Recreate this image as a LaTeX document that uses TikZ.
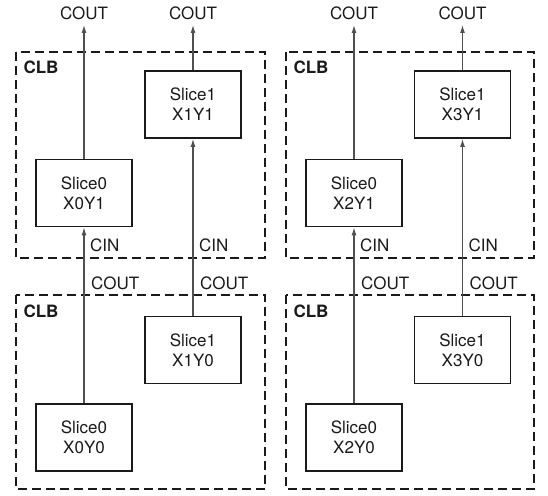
\documentclass[tikz,border=0pt]{standalone}
\usepackage{fontspec}
\setmainfont{TeX Gyre Heros}
\usetikzlibrary{arrows.meta}
\definecolor{ink}{HTML}{1A1A1A}
\definecolor{wire}{HTML}{505050}
\begin{document}
\begin{tikzpicture}[x=1pt,y=-1pt,
  every node/.style={text=ink,font=\fontsize{17}{20}\selectfont},
  slicebox/.style={draw=ink,line width=1.8pt,minimum width=96pt,minimum height=67pt,align=center,inner sep=0pt},
  clbbox/.style={draw=ink,line width=1.8pt,dash pattern=on 9pt off 5pt},
  clblabel/.style={anchor=west,font=\fontsize{17}{20}\selectfont\bfseries},
  conn/.style={draw=wire,line width=1.1pt},
  arr/.style={conn,-{Latex[length=8pt,width=5pt]}},
  pinlabel/.style={anchor=west,inner sep=0pt}]
\useasboundingbox (0,0) rectangle (548,495);
% CLB outlines
\draw[clbbox] (16,52) rectangle (265,258);
\draw[clbbox] (16,295) rectangle (265,489);
\draw[clbbox] (286,52) rectangle (534,258);
\draw[clbbox] (286,295) rectangle (534,489);
\node[clblabel] (clbA) at (20,67) {CLB};
\node[clblabel] (clbB) at (20,311) {CLB};
\node[clblabel] (clbC) at (290,67) {CLB};
\node[clblabel] (clbD) at (290,311) {CLB};
% slices
\node[slicebox] (s01) at (84,193) {Slice0\\X0Y1};
\node[slicebox] (s11) at (193,104.5) {Slice1\\X1Y1};
\node[slicebox] (s00) at (84,437.5) {Slice0\\X0Y0};
\node[slicebox] (s10) at (193,350) {Slice1\\X1Y0};
\node[slicebox] (s21) at (354,193) {Slice0\\X2Y1};
\node[slicebox] (s31) at (462.5,104.5) {Slice1\\X3Y1};
\node[slicebox] (s20) at (354,437.5) {Slice0\\X2Y0};
\node[slicebox] (s30) at (462.5,350) {Slice1\\X3Y0};
% top COUT outputs
\coordinate (o0) at (84,25);
\coordinate (o1) at (193,25);
\coordinate (o2) at (354,25);
\coordinate (o3) at (462.5,25);
\node (t0) at (84,13) {COUT};
\node (t1) at (193,13) {COUT};
\node (t2) at (354,13) {COUT};
\node (t3) at (462.5,13) {COUT};
\draw[arr] (s01.north) -- (o0);
\draw[arr] (s11.north) -- (o1);
\draw[arr] (s21.north) -- (o2);
\draw[arr] (s31.north) -- (o3);
% carry chains
\draw[arr] (s00.north) -- (s01.south);
\draw[arr] (s10.north) -- (s11.south);
\draw[arr] (s20.north) -- (s21.south);
\draw[arr] (s30.north) -- (s31.south);
% CIN labels
\node[pinlabel] (c0) at (90,245) {CIN};
\node[pinlabel] (c1) at (199,245) {CIN};
\node[pinlabel] (c2) at (360,245) {CIN};
\node[pinlabel] (c3) at (468.5,245) {CIN};
% COUT labels between CLBs
\node[pinlabel] (d0) at (91,283) {COUT};
\node[pinlabel] (d1) at (200,283) {COUT};
\node[pinlabel] (d2) at (361,283) {COUT};
\node[pinlabel] (d3) at (469.5,283) {COUT};
\end{tikzpicture}
\end{document}
